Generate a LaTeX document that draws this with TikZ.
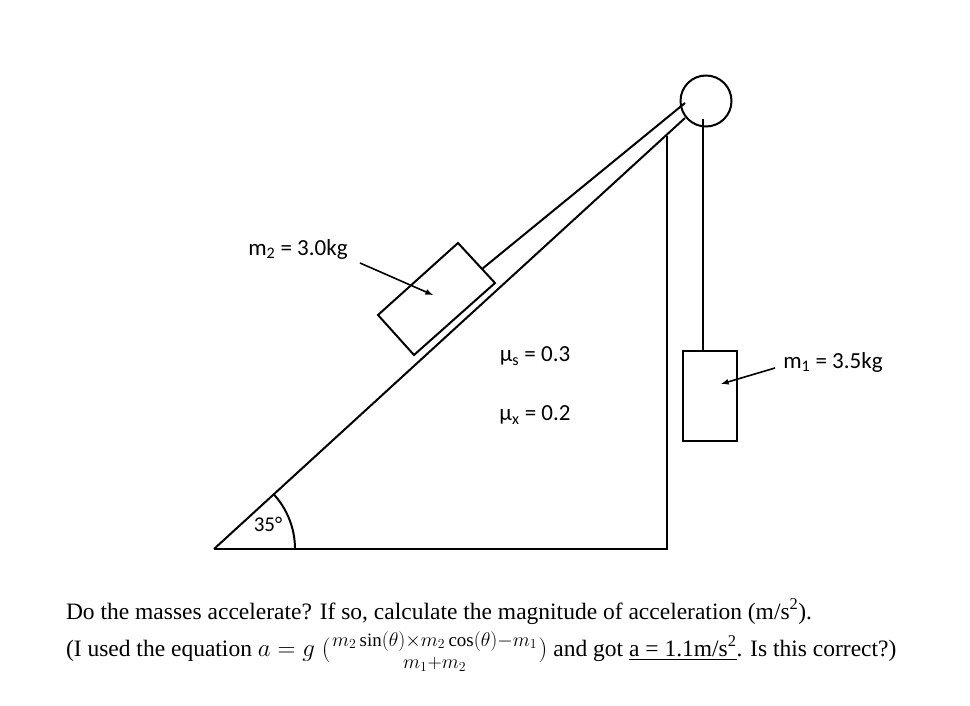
\documentclass[tikz,border=0pt]{standalone}
\usepackage{fontspec}
\usepackage{amsmath}
\setmainfont{Liberation Serif}
\newfontfamily\calfont{Carlito}
\begin{document}
\begin{tikzpicture}[x=1pt,y=-1pt,line width=2pt,
  lbl/.style={font=\calfont\fontsize{23}{27}\selectfont,inner sep=0pt},
  txt/.style={font=\fontsize{23.5}{28}\selectfont,inner sep=0pt,anchor=base west},
  arr/.style={-latex,line width=1.6pt}]
\useasboundingbox (0,0) rectangle (970,706);
% incline
\coordinate (A) at (214,549);
\coordinate (B) at (667,549);
\coordinate (T) at (667,136);
\coordinate (Tend) at (685,118);
\draw (A) -- (Tend);
\draw (T) -- (B) -- (A);
% pulley
\node[circle,draw,minimum size=51pt,inner sep=0pt] (P) at (706,101) {};
% block m2
\draw (458,243) -- (495,283) -- (414,355) -- (378,315) -- cycle;
\coordinate (R1) at (482,269);
\coordinate (R2) at (685,103);
\draw (R1) -- (R2);
% hanging
\node[draw,minimum width=54pt,minimum height=90pt,inner sep=0pt] (M1) at (710,396) {};
\coordinate (H) at (703,119);
\draw (H) -- (H |- M1.north);
% angle
\draw (295,549) arc (0:-42:81);
\node[lbl,font=\calfont\fontsize{21}{25}\selectfont] (ang) at (268,524) {35\textdegree};
% labels
\node[lbl] (m2) at (298,249) {m\textsubscript{2} = 3.0kg};
\coordinate (m2a) at (360,263);
\coordinate (m2b) at (433,295);
\draw[arr] (m2a) -- (m2b);
\node[lbl] (m1) at (833,362) {m\textsubscript{1} = 3.5kg};
\coordinate (m1a) at (775,368);
\coordinate (m1b) at (721,384);
\draw[arr] (m1a) -- (m1b);
\node[lbl] (mus) at (535,356) {µ\textsubscript{s} = 0.3};
\node[lbl] (mux) at (535,415) {µ\textsubscript{x} = 0.2};
% question
\node[txt] (q1) at (65,619) {Do the masses accelerate? If so, calculate the magnitude of acceleration (m/s\textsuperscript{2}).};
\node[txt] (q2) at (65,656) {(I used the equation $a = g\;(\raisebox{-0.25ex}{\scalebox{1.15}{$\genfrac{}{}{0pt}{}{m_2\sin(\theta)\times m_2\cos(\theta)-m_1}{m_1+m_2}$}})$ and got \underline{a = 1.1m/s\textsuperscript{2}}. Is this correct?)};
\end{tikzpicture}
\end{document}
